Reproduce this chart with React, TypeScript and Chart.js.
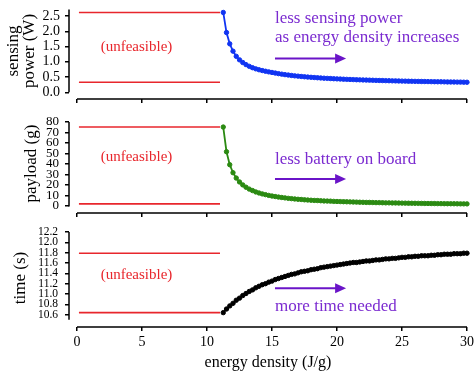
import React, { useEffect, useRef } from "react";
import { Chart, registerables } from "chart.js";
Chart.register(...registerables);

const ENERGY_DENSITY = [
  11.25, 11.5, 11.75, 12, 12.25, 12.5, 12.75, 13, 13.25, 13.5,
  13.75, 14, 14.25, 14.5, 14.75, 15, 15.25, 15.5, 15.75, 16,
  16.25, 16.5, 16.75, 17, 17.25, 17.5, 17.75, 18, 18.25, 18.5,
  18.75, 19, 19.25, 19.5, 19.75, 20, 20.25, 20.5, 20.75, 21,
  21.25, 21.5, 21.75, 22, 22.25, 22.5, 22.75, 23, 23.25, 23.5,
  23.75, 24, 24.25, 24.5, 24.75, 25, 25.25, 25.5, 25.75, 26,
  26.25, 26.5, 26.75, 27, 27.25, 27.5, 27.75, 28, 28.25, 28.5,
  28.75, 29, 29.25, 29.5, 29.75, 30,
];
const SENSING_POWER = [
  2.62, 1.96, 1.59, 1.35, 1.18, 1.065, 0.977, 0.908, 0.852, 0.807,
  0.77, 0.739, 0.713, 0.691, 0.67, 0.651, 0.631, 0.612, 0.595, 0.579,
  0.566, 0.552, 0.54, 0.53, 0.519, 0.509, 0.5, 0.492, 0.484, 0.477,
  0.47, 0.463, 0.457, 0.451, 0.445, 0.44, 0.435, 0.43, 0.425, 0.421,
  0.417, 0.412, 0.409, 0.405, 0.401, 0.398, 0.395, 0.391, 0.388, 0.385,
  0.382, 0.379, 0.376, 0.374, 0.371, 0.368, 0.366, 0.363, 0.361, 0.359,
  0.357, 0.355, 0.353, 0.351, 0.349, 0.347, 0.345, 0.344, 0.342, 0.34,
  0.338, 0.337, 0.335, 0.334, 0.332, 0.33,
];
const PAYLOAD = [
  75.2, 51.7, 39.3, 31.7, 26.6, 22.9, 20.1, 17.9, 16.1, 14.7,
  13.4, 12.4, 11.5, 10.8, 10.1, 9.5, 9.0, 8.5, 8.1, 7.7,
  7.3, 7.0, 6.7, 6.4, 6.2, 5.9, 5.7, 5.5, 5.3, 5.2,
  5.0, 4.8, 4.7, 4.6, 4.4, 4.3, 4.2, 4.1, 4.0, 3.9,
  3.8, 3.7, 3.6, 3.5, 3.4, 3.4, 3.3, 3.2, 3.2, 3.1,
  3.0, 3.0, 2.9, 2.9, 2.8, 2.75, 2.7, 2.65, 2.6, 2.56,
  2.52, 2.47, 2.43, 2.39, 2.35, 2.32, 2.28, 2.25, 2.21, 2.18,
  2.15, 2.12, 2.08, 2.05, 2.03, 2.0,
];
const TIME = [
  10.64, 10.71, 10.77, 10.82, 10.88, 10.92, 10.97, 11.01, 11.05, 11.08,
  11.12, 11.15, 11.18, 11.2, 11.23, 11.25, 11.28, 11.3, 11.32, 11.34,
  11.36, 11.38, 11.39, 11.41, 11.43, 11.44, 11.45, 11.47, 11.48, 11.49,
  11.51, 11.52, 11.53, 11.54, 11.55, 11.56, 11.57, 11.58, 11.59, 11.6,
  11.61, 11.61, 11.62, 11.63, 11.64, 11.64, 11.65, 11.66, 11.66, 11.67,
  11.68, 11.68, 11.69, 11.69, 11.7, 11.71, 11.71, 11.72, 11.72, 11.73,
  11.73, 11.74, 11.74, 11.74, 11.75, 11.75, 11.76, 11.76, 11.77, 11.77,
  11.77, 11.78, 11.78, 11.78, 11.79, 11.79,
];
const UNFEASIBLE_X = [0.15, 11.0];
const POWER_LIMITS = [0.33, 2.62];
const PAYLOAD_LIMITS = [2.0, 75.2];
const TIME_LIMITS = [10.64, 11.79];

const X_TICKS = [0, 5, 10, 15, 20, 25, 30];
const POWER_TICKS = [0, 0.5, 1.0, 1.5, 2.0, 2.5];
const PAYLOAD_TICKS = [0, 10, 20, 30, 40, 50, 60, 70, 80];
const TIME_TICKS = [10.6, 10.8, 11.0, 11.2, 11.4, 11.6, 11.8, 12.0, 12.2];

const SERIF = "'Liberation Serif', 'Times New Roman', serif";
const RED = "#e8262c";
const PURPLE_TEXT = "#7b2bd0";
const PURPLE_ARROW = "#6a14c8";

type Panel = {
  top: number;
  height: number;
  padTop: number;
  xAxisHeight: number;
  yMin: number;
  yMax: number;
  spine: number[];
  yTicks: number[];
  yFont: number;
  yPad: number;
  digits: number;
  values: number[];
  color: string;
  limits: number[];
  titleLines: { text: string; x: number; y: number }[];
  unfeasible: number[];
  notes: { text: string; y: number }[];
  arrowY: number;
  showXLabels: boolean;
};

const PANELS: Panel[] = [
  {
    top: 0, height: 108, padTop: 10, xAxisHeight: 9,
    yMin: -0.22, yMax: 2.7, spine: [0, 2.72],
    yTicks: POWER_TICKS, yFont: 14, yPad: 5, digits: 1,
    values: SENSING_POWER, color: "#1034f2", limits: POWER_LIMITS,
    titleLines: [
      { text: "sensing", x: 14, y: 51 },
      { text: "power (W)", x: 30, y: 51 },
    ],
    unfeasible: [4.58, 1.49],
    notes: [
      { text: "less sensing power", y: 2.42 },
      { text: "as energy density increases", y: 1.79 },
    ],
    arrowY: 1.11,
    showXLabels: false,
  },
  {
    top: 108, height: 114, padTop: 14, xAxisHeight: 9,
    yMin: -6.67, yMax: 80, spine: [-0.5, 80],
    yTicks: PAYLOAD_TICKS, yFont: 13, yPad: 6, digits: 0,
    values: PAYLOAD, color: "#2b8a12", limits: PAYLOAD_LIMITS,
    titleLines: [{ text: "payload (g)", x: 32, y: 55.5 }],
    unfeasible: [4.58, 46.9],
    notes: [{ text: "less battery on board", y: 44.5 }],
    arrowY: 25.7,
    showXLabels: false,
  },
  {
    top: 222, height: 157, padTop: 10, xAxisHeight: 52,
    yMin: 10.362, yMax: 12.2, spine: [10.5, 12.2],
    yTicks: TIME_TICKS, yFont: 11.5, yPad: 7, digits: 1,
    values: TIME, color: "#000000", limits: TIME_LIMITS,
    titleLines: [{ text: "time (s)", x: 21, y: 56 }],
    unfeasible: [4.58, 11.37],
    notes: [{ text: "more time needed", y: 10.755 }],
    arrowY: 11.11,
    showXLabels: true,
  },
];

const NOTE_X = 15.23;
const ARROW_END_X = 20.7;

const decorPlugin = {
  id: "decor",
  afterDraw(chart: any, _args: any, opts: any) {
    const p: Panel = opts.panel;
    const { ctx, chartArea } = chart;
    const x = chart.scales.x;
    const y = chart.scales.y;
    ctx.save();
    ctx.strokeStyle = "#000";
    ctx.lineWidth = 1.5;
    ctx.beginPath();
    ctx.moveTo(chartArea.left, y.getPixelForValue(p.spine[1]));
    ctx.lineTo(chartArea.left, y.getPixelForValue(p.spine[0]));
    ctx.moveTo(x.getPixelForValue(X_TICKS[0]), chartArea.bottom);
    ctx.lineTo(x.getPixelForValue(X_TICKS[X_TICKS.length - 1]), chartArea.bottom);
    ctx.stroke();

    ctx.fillStyle = "#000";
    ctx.font = `17px ${SERIF}`;
    ctx.textAlign = "center";
    ctx.textBaseline = "middle";
    for (const t of p.titleLines) {
      ctx.save();
      ctx.translate(t.x, t.y);
      ctx.rotate(-Math.PI / 2);
      ctx.fillText(t.text, 0, 0);
      ctx.restore();
    }

    ctx.fillStyle = RED;
    ctx.font = `15px ${SERIF}`;
    ctx.fillText("(unfeasible)", x.getPixelForValue(p.unfeasible[0]), y.getPixelForValue(p.unfeasible[1]));

    ctx.fillStyle = PURPLE_TEXT;
    ctx.font = `17px ${SERIF}`;
    ctx.textAlign = "left";
    for (const n of p.notes) {
      ctx.fillText(n.text, x.getPixelForValue(NOTE_X), y.getPixelForValue(n.y));
    }

    const ax1 = x.getPixelForValue(NOTE_X);
    const ax2 = x.getPixelForValue(ARROW_END_X);
    const ay = y.getPixelForValue(p.arrowY);
    ctx.strokeStyle = PURPLE_ARROW;
    ctx.fillStyle = PURPLE_ARROW;
    ctx.lineWidth = 2;
    ctx.beginPath();
    ctx.moveTo(ax1, ay);
    ctx.lineTo(ax2 - 8, ay);
    ctx.stroke();
    ctx.beginPath();
    ctx.moveTo(ax2, ay);
    ctx.lineTo(ax2 - 11, ay - 5);
    ctx.lineTo(ax2 - 11, ay + 5);
    ctx.closePath();
    ctx.fill();
    ctx.restore();
  },
};

function zeroPadding(s: any) {
  s.paddingTop = 0;
  s.paddingBottom = 0;
  s.paddingLeft = 0;
  s.paddingRight = 0;
}

function PanelChart({ panel }: { panel: Panel }) {
  const ref = useRef<HTMLCanvasElement | null>(null);
  useEffect(() => {
    if (!ref.current) return;
    const p = panel;
    const limitSets = p.limits.map((lv) => ({
      data: UNFEASIBLE_X.map((xv) => ({ x: xv, y: lv })),
      borderColor: RED,
      borderWidth: 1.6,
      pointRadius: 0,
      showLine: true,
      clip: false as any,
    }));
    const chart = new Chart(ref.current, {
      type: "line",
      data: {
        datasets: [
          ...limitSets,
          {
            data: ENERGY_DENSITY.map((xv, i) => ({ x: xv, y: p.values[i] })),
            borderColor: p.color,
            backgroundColor: p.color,
            borderWidth: 1.8,
            pointRadius: 2.2,
            pointBorderWidth: 1,
            pointBorderColor: p.color,
            pointBackgroundColor: p.color,
            showLine: true,
            clip: false as any,
          },
        ],
      },
      options: {
        responsive: false,
        animation: false,
        layout: { padding: { top: p.padTop, right: 7, left: 0, bottom: 0 } },
        plugins: {
          legend: { display: false },
          tooltip: { enabled: false },
          decor: { panel: p },
        } as any,
        scales: {
          x: {
            type: "linear",
            min: -0.615,
            max: 30,
            afterBuildTicks: (s: any) => {
              s.ticks = X_TICKS.map((v) => ({ value: v }));
            },
            afterFit: (s: any) => {
              s.height = p.xAxisHeight;
              zeroPadding(s);
            },
            border: { display: false },
            grid: {
              display: true,
              drawOnChartArea: false,
              drawTicks: true,
              tickLength: 4,
              color: "#000",
              lineWidth: 1.5,
            },
            ticks: {
              display: p.showXLabels,
              padding: 3,
              maxRotation: 0,
              autoSkip: false,
              color: "#000",
              font: { family: SERIF, size: 14 },
              callback: (v: any) => String(v),
            },
            title: {
              display: p.showXLabels,
              text: "energy density (J/g)",
              color: "#000",
              font: { family: SERIF, size: 16 },
              padding: { top: 0, bottom: 7 },
            },
          },
          y: {
            type: "linear",
            min: p.yMin,
            max: p.yMax,
            afterBuildTicks: (s: any) => {
              s.ticks = p.yTicks.map((v) => ({ value: v }));
            },
            afterFit: (s: any) => {
              s.width = 69;
              zeroPadding(s);
            },
            border: { display: false },
            grid: {
              display: true,
              drawOnChartArea: false,
              drawTicks: true,
              tickLength: 4,
              color: "#000",
              lineWidth: 1.5,
            },
            ticks: {
              padding: p.yPad,
              color: "#000",
              autoSkip: false,
              font: { family: SERIF, size: p.yFont, lineHeight: 1 },
              callback: (v: any) => Number(v).toFixed(p.digits),
            },
          },
        },
      },
      plugins: [decorPlugin],
    } as any);
    return () => chart.destroy();
  }, [panel]);
  return (
    <canvas
      ref={ref}
      width={474}
      height={panel.height}
      style={{ position: "absolute", left: 0, top: panel.top, width: 474, height: panel.height, display: "block" }}
    />
  );
}

export default function App() {
  return (
    <div style={{ position: "fixed", left: 0, top: 0, width: 474, height: 379, background: "#fff" }}>
      {PANELS.map((p, i) => (
        <PanelChart key={i} panel={p} />
      ))}
    </div>
  );
}
